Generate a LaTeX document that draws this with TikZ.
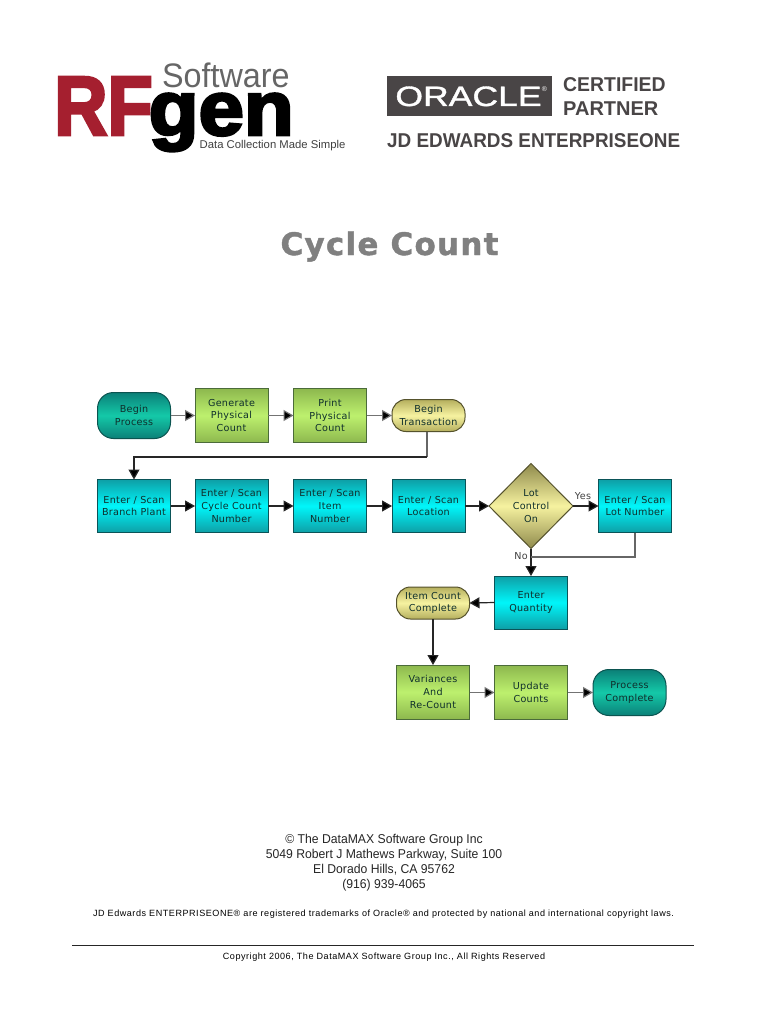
\documentclass[tikz,border=0pt]{standalone}
\usepackage{fontspec}
\setmainfont{Liberation Sans}
\newfontfamily\flowfont[LetterSpace=3]{DejaVu Sans}
\newfontfamily\heavyfont[FakeBold=3.5]{Liberation Sans Bold}
\newfontfamily\boldfont{Liberation Sans Bold}
\newfontfamily\oraclefont[FakeBold=1.2]{Liberation Sans}
\newfontfamily\titlefont[LetterSpace=4,FakeBold=1.3]{DejaVu Sans Bold}
\newfontfamily\smallfont[LetterSpace=6]{Liberation Sans}
\usetikzlibrary{arrows.meta,shapes.geometric}
\definecolor{redlogo}{HTML}{A51F2F}
\definecolor{oracledark}{HTML}{494546}
\definecolor{flowtext}{HTML}{0F2F2C}
\definecolor{limeD}{HTML}{8DB84E}
\definecolor{limeL}{HTML}{BDF06E}
\definecolor{limeE}{HTML}{4B6B3A}
\definecolor{cyanD}{HTML}{0E9FA6}
\definecolor{cyanL}{HTML}{00F6FA}
\definecolor{cyanE}{HTML}{0A5458}
\definecolor{tealD}{HTML}{0B8078}
\definecolor{tealL}{HTML}{14C9A8}
\definecolor{tealE}{HTML}{0B5450}
\definecolor{yelD}{HTML}{B5AF5E}
\definecolor{yelL}{HTML}{F6F2A0}
\definecolor{yelE}{HTML}{55522C}
\definecolor{diaD}{HTML}{8F8A4C}
\tikzset{
 flowbase/.style={font=\flowfont\fontsize{9.6}{12.6}\selectfont,text=flowtext,align=center,inner sep=0pt,line width=1pt,outer sep=0pt},
 lgreen/.style={flowbase,rectangle,draw=limeE,top color=limeD,bottom color=limeD,middle color=limeL,minimum width=73pt,minimum height=54pt},
 cyanbox/.style={flowbase,rectangle,draw=cyanE,top color=cyanD,bottom color=cyanD,middle color=cyanL,minimum width=73pt,minimum height=53pt},
 termteal/.style={flowbase,rectangle,rounded corners=16pt,draw=tealE,top color=tealD,bottom color=tealD,middle color=tealL,minimum width=73pt,minimum height=46pt},
 termyel/.style={flowbase,rectangle,rounded corners=14pt,draw=yelE,top color=yelD,bottom color=yelD,middle color=yelL,minimum width=73pt,minimum height=32pt},
 decision/.style={flowbase,diamond,aspect=1,draw=yelE,top color=diaD,bottom color=diaD,middle color=yelL,minimum width=84pt,minimum height=85pt},
 conn/.style={draw=black!85,line width=1.2pt,-{Triangle[length=10pt,width=11pt,fill=black]}},
 connlight/.style={conn,draw=black!55},
 plain/.style={draw=black!60,line width=1.2pt},
 lab/.style={font=\flowfont\fontsize{9.6}{10}\selectfont,text=black!75,inner sep=0pt},
 foot/.style={font=\fontsize{12.8}{15}\selectfont,text=black!85,align=center,inner sep=0pt,xscale=.953},
 tiny/.style={font=\smallfont\fontsize{9.05}{11}\selectfont,text=black,inner sep=0pt,anchor=base}
}
\begin{document}
\begin{tikzpicture}[x=1pt,y=-1pt]
\useasboundingbox[fill=white] (0,0) rectangle (768,1024);
% logos
\node[anchor=base west,inner sep=0pt,text=redlogo,font=\heavyfont\fontsize{84}{84}\selectfont,xscale=.88] (rf) at (54,135) {RF};
\node[anchor=base west,inner sep=0pt,text=black!60,font=\fontsize{34}{34}\selectfont,xscale=.95] (sw) at (162,88) {Software};
\node[anchor=base west,inner sep=0pt,text=black,font=\heavyfont\fontsize{77}{77}\selectfont,xscale=1.06] (gen) at (148.5,135) {gen};
\node[anchor=base west,inner sep=0pt,text=black!75,font=\fontsize{11.3}{12}\selectfont] (tag) at (199.5,148.5) {Data Collection Made Simple};
\node[rectangle,fill=oracledark,minimum width=165pt,minimum height=40pt,inner sep=0pt] (obox) at (469.5,96) {};
\node[inner sep=0pt,text=white,font=\oraclefont\fontsize{28}{28}\selectfont,xscale=1.27,anchor=base] (ora) at (468.5,106) {ORACLE};
\node[inner sep=0pt,text=white,font=\fontsize{7}{7}\selectfont,anchor=base] (orar) at (544.5,92) {®};
\node[anchor=base west,inner sep=0pt,text=oracledark,font=\boldfont\fontsize{20}{20}\selectfont,xscale=.97] (cert) at (563,92) {CERTIFIED};
\node[anchor=base west,inner sep=0pt,text=oracledark,font=\boldfont\fontsize{20}{20}\selectfont] (part) at (563,116) {PARTNER};
\node[anchor=base west,inner sep=0pt,text=oracledark,font=\boldfont\fontsize{20}{20}\selectfont,xscale=.945] (jde) at (387,148) {JD EDWARDS ENTERPRISEONE};
% title
\node[anchor=base,inner sep=0pt,text=black!50,font=\titlefont\fontsize{31}{31}\selectfont] (title) at (389.5,255) {Cycle Count};
% flow nodes
\node[termteal] (bp) at (134,415.5) {Begin\\Process};
\node[lgreen] (gen1) at (231.5,415.5) {Generate\\Physical\\Count};
\node[lgreen] (print) at (330,415.5) {Print\\Physical\\Count};
\node[termyel] (bt) at (428.5,415.5) {Begin\\Transaction};
\node[cyanbox] (branch) at (134,506) {Enter / Scan\\Branch Plant};
\node[cyanbox] (cycle) at (231.5,506) {Enter / Scan\\Cycle Count\\Number};
\node[cyanbox] (item) at (330,506) {Enter / Scan\\Item\\Number};
\node[cyanbox] (loc) at (428.5,506) {Enter / Scan\\Location};
\node[decision] (lot) at (531,506) {Lot\\Control\\On};
\node[cyanbox] (lotn) at (635,506) {Enter / Scan\\Lot Number};
\node[cyanbox] (qty) at (531,602.5) {Enter\\Quantity};
\node[termyel] (icc) at (433,603) {Item Count\\Complete};
\node[lgreen] (var) at (433,692) {Variances\\And\\Re-Count};
\node[lgreen] (upd) at (531,692.5) {Update\\Counts};
\node[termteal] (pc) at (629.5,692.5) {Process\\Complete};
\coordinate (b1) at (427,457);
\coordinate (j1) at (531,557);
% connectors
\draw[connlight] (bp.east) -- (gen1.west);
\draw[connlight] (gen1.east) -- (print.west);
\draw[connlight] (print.east) -- (bt.west);
\draw[plain] (bt.south -| b1) -- (b1);
\draw[conn] (b1) -| (branch.north);
\draw[conn] (branch.east) -- (cycle.west);
\draw[conn] (cycle.east) -- (item.west);
\draw[conn] (item.east) -- (loc.west);
\draw[conn] (loc.east) -- (lot.west);
\draw[conn] (lot.east) -- (lotn.west);
\draw[conn] (lot.south) -- (qty.north);
\draw[plain] (lotn.south) |- (j1);
\draw[conn] (qty.west) -- (icc.east);
\draw[conn] (icc.south) -- (var.north);
\draw[connlight] (var.east |- upd.west) -- (upd.west);
\draw[connlight] (upd.east) -- (pc.west);
\node[lab] (yes) at (583,496) {Yes};
\node[lab] (no) at (521,556) {No};
% footer
\node[foot] (addr) at (384,862.5) {© The DataMAX Software Group Inc\\5049 Robert J Mathews Parkway, Suite 100\\El Dorado Hills, CA  95762\\(916) 939-4065};
\node[tiny] (tm) at (383.5,916) {JD Edwards ENTERPRISEONE® are registered trademarks of Oracle® and protected by national and international copyright laws.};
\coordinate (r1) at (72,945.5);
\coordinate (r2) at (694,945.5);
\draw[line width=1pt,black!85] (r1) -- (r2);
\node[tiny] (copy) at (384,959) {Copyright 2006, The DataMAX Software Group Inc., All Rights Reserved};
\end{tikzpicture}
\end{document}
